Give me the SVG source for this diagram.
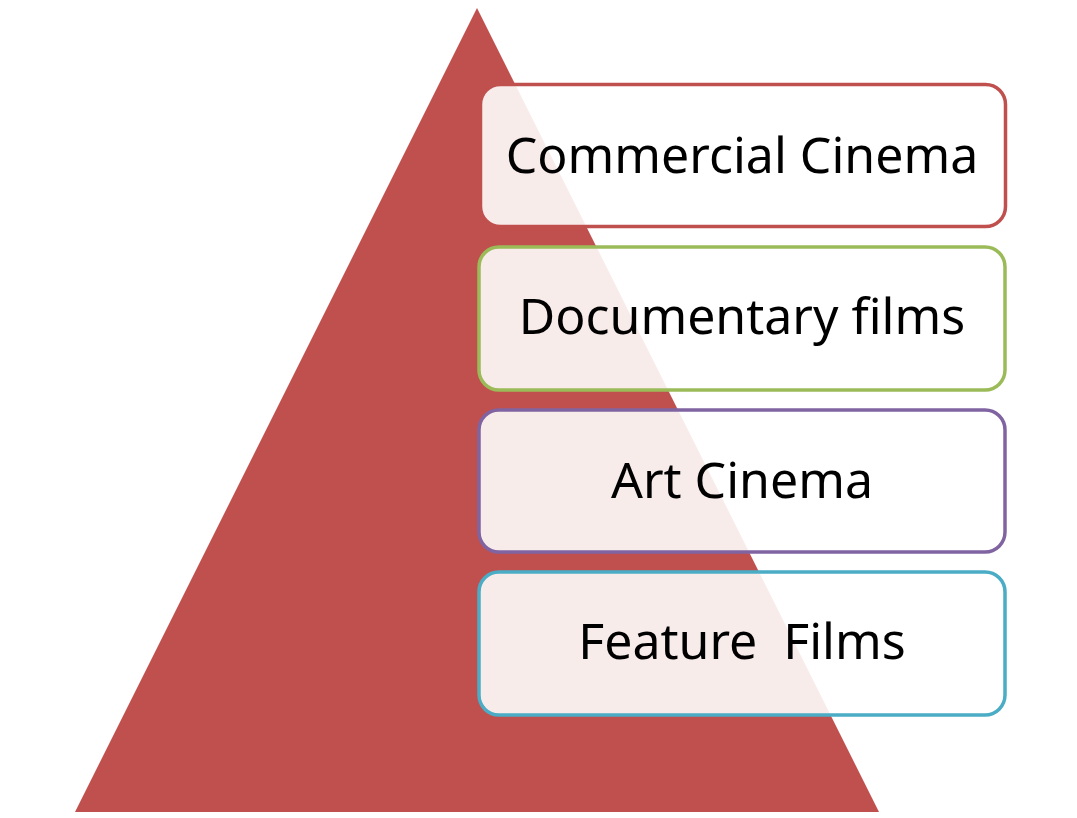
<svg xmlns="http://www.w3.org/2000/svg" width="1077" height="818" viewBox="0 0 1077 818">
<style>
.box{fill:#ffffff;fill-opacity:0.89;stroke-width:3.5}
.lbl{font-family:"Noto Sans","Open Sans",sans-serif;font-size:50px;fill:#000;text-anchor:middle}
</style>
<rect width="1077" height="818" fill="#ffffff"/>
<g id="pyramid">
<polygon points="477,8 879,812 75,812" fill="#C0504D"/>
</g>
<g id="connectors"></g>
<g id="node-commercial">
<rect class="box" x="480.5" y="84.5" width="525" height="142" rx="20" stroke="#C0504D"/>
<text class="lbl" x="742" y="173">Commercial Cinema</text>
</g>
<g id="node-documentary">
<rect class="box" x="479" y="247" width="526" height="143" rx="20" stroke="#9BBB59"/>
<text class="lbl" x="742" y="334">Documentary films</text>
</g>
<g id="node-art">
<rect class="box" x="479" y="410" width="526" height="142" rx="20" stroke="#8064A2"/>
<text class="lbl" x="742" y="498">Art Cinema</text>
</g>
<g id="node-feature">
<rect class="box" x="479" y="572" width="526" height="143" rx="20" stroke="#4BACC6"/>
<text class="lbl" x="742" y="659" xml:space="preserve">Feature  Films</text>
</g>
</svg>
